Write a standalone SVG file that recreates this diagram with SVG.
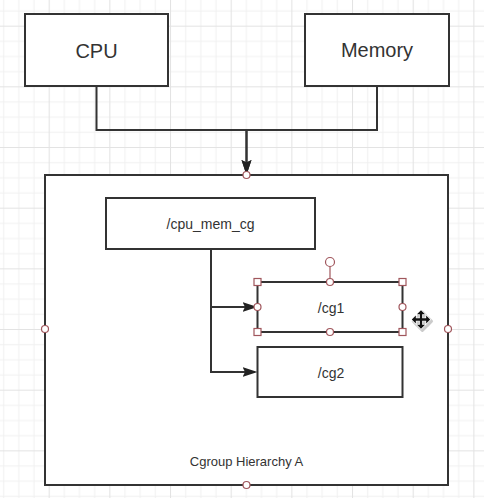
<svg xmlns="http://www.w3.org/2000/svg" width="484" height="498" viewBox="0 0 484 498">
  <style>
    .box { fill: #ffffff; stroke: #333333; stroke-width: 2; }
    .lbl { font-family: "Liberation Sans", Arial, sans-serif; fill: #333333; text-anchor: middle; }
    .big { font-size: 20px; }
    .mid { font-size: 14px; }
    .sm { font-size: 13px; }
    .edge { fill: none; stroke: #333333; stroke-width: 2; }
    .hc { fill: #ffffff; stroke: #a0565c; stroke-width: 1.2; }
  </style>
  <defs>
    <pattern id="grid" patternUnits="userSpaceOnUse" x="48.67" y="25.67" width="60.67" height="60.67">
      <rect x="0" y="0" width="60.67" height="60.67" fill="#ffffff"/>
      <path d="M15.67,0 V60.67 M30.83,0 V60.67 M46,0 V60.67 M0,15.67 H60.67 M0,30.83 H60.67 M0,46 H60.67" stroke="#f1f1f1" stroke-width="1" fill="none"/>
      <path d="M0.5,0 V60.67 M0,0.5 H60.67" stroke="#e3e3e3" stroke-width="1" fill="none"/>
    </pattern>
    <marker id="arrow" markerUnits="userSpaceOnUse" markerWidth="16" markerHeight="12" refX="12" refY="5" orient="auto">
      <path d="M0,0 L15,5 L0,10 L2.5,5 Z" fill="#222222"/>
    </marker>
  </defs>

  <rect x="0" y="0" width="484" height="498" fill="url(#grid)"/>

  <g id="outer">
    <rect class="box" x="45" y="175" width="403" height="310"/>
    <text class="lbl sm" x="246.5" y="466">Cgroup Hierarchy A</text>
  </g>

  <g id="cpu">
    <rect class="box" x="25" y="14" width="143" height="72"/>
    <text class="lbl big" x="96.5" y="57.5">CPU</text>
  </g>

  <g id="memory">
    <rect class="box" x="305" y="14" width="144" height="72"/>
    <text class="lbl big" x="377" y="57">Memory</text>
  </g>

  <g id="cpu_mem_cg">
    <rect class="box" x="106" y="198" width="209" height="51"/>
    <text class="lbl mid" x="210.5" y="228.5">/cpu_mem_cg</text>
  </g>

  <g id="cg1">
    <rect class="box" x="257.5" y="282" width="145" height="50"/>
    <text class="lbl mid" x="331" y="312.5">/cg1</text>
  </g>

  <g id="cg2">
    <rect class="box" x="257.5" y="347" width="145" height="50"/>
    <text class="lbl mid" x="331" y="378">/cg2</text>
  </g>

  <g id="connectors">
    <path class="edge" d="M96.5,86 V130 H246.5 V172" marker-end="url(#arrow)"/>
    <path class="edge" d="M377,86 V130 H246.5 V172" marker-end="url(#arrow)"/>
    <path class="edge" d="M211,249 V307 H254.5" marker-end="url(#arrow)"/>
    <path class="edge" d="M211,249 V372 H254.5" marker-end="url(#arrow)"/>
  </g>

  <g id="selection-handles">
    <circle class="hc" cx="246.5" cy="175" r="3.5"/>
    <circle class="hc" cx="45" cy="329" r="3.5"/>
    <circle class="hc" cx="448" cy="329" r="3.5"/>
    <circle class="hc" cx="246.5" cy="485" r="3.5"/>
    <line x1="330" y1="266.5" x2="330" y2="282" stroke="#a0565c" stroke-width="1.2"/>
    <circle class="hc" cx="330" cy="262" r="4.5"/>
    <rect class="hc" x="254" y="278.5" width="7" height="7"/>
    <rect class="hc" x="399" y="278.5" width="7" height="7"/>
    <rect class="hc" x="254" y="328.5" width="7" height="7"/>
    <rect class="hc" x="399" y="328.5" width="7" height="7"/>
    <circle class="hc" cx="330" cy="282" r="3.5"/>
    <circle class="hc" cx="330" cy="332" r="3.5"/>
    <circle class="hc" cx="257.5" cy="307" r="3.5"/>
    <circle class="hc" cx="402.5" cy="307" r="3.5"/>
  </g>

  <g id="cursor" transform="translate(421,319.5) scale(1.15)">
    <path d="M0,-8 L3.5,-4.5 L1,-4.5 L1,-1 L4.5,-1 L4.5,-3.5 L8,0 L4.5,3.5 L4.5,1 L1,1 L1,4.5 L3.5,4.5 L0,8 L-3.5,4.5 L-1,4.5 L-1,1 L-4.5,1 L-4.5,3.5 L-8,0 L-4.5,-3.5 L-4.5,-1 L-1,-1 L-1,-4.5 L-3.5,-4.5 Z" transform="translate(1.2,1.6)" fill="#999999" opacity="0.5" stroke="#999999" stroke-width="2.5" stroke-linejoin="round"/>
    <path d="M0,-8 L3.5,-4.5 L1,-4.5 L1,-1 L4.5,-1 L4.5,-3.5 L8,0 L4.5,3.5 L4.5,1 L1,1 L1,4.5 L3.5,4.5 L0,8 L-3.5,4.5 L-1,4.5 L-1,1 L-4.5,1 L-4.5,3.5 L-8,0 L-4.5,-3.5 L-4.5,-1 L-1,-1 L-1,-4.5 L-3.5,-4.5 Z" fill="#111111" stroke="#ffffff" stroke-width="1.2" stroke-linejoin="round" paint-order="stroke"/>
  </g>
</svg>
